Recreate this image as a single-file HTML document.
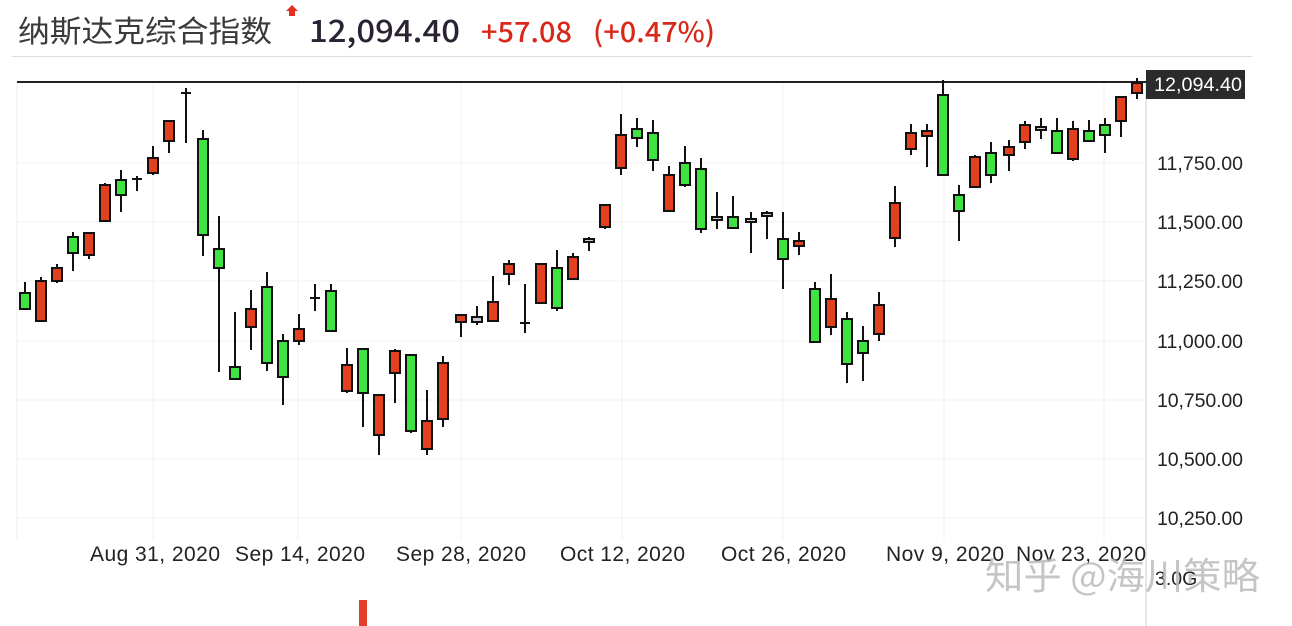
<!DOCTYPE html>
<html><head><meta charset="utf-8"><style>
body{margin:0;background:#fff;width:1292px;height:626px;overflow:hidden;font-family:"Liberation Sans","Noto Sans CJK SC",sans-serif}
svg{position:absolute;left:0;top:0}
</style></head><body>
<svg width="1292" height="626" xmlns="http://www.w3.org/2000/svg">
<rect width="1292" height="626" fill="#fff"/>
<text x="18" y="42" font-size="30" fill="#3a3a3a" font-family="Noto Sans CJK SC, sans-serif" textLength="254" lengthAdjust="spacingAndGlyphs">纳斯达克综合指数</text>
<path d="M286 11 L292 5 L298 11 L295 11 L295 16 L289 16 L289 11Z" fill="#e0301e"/>
<text x="309" y="42" font-size="31" fill="#2b2233" font-family="Noto Sans CJK SC, sans-serif" font-weight="500" textLength="151" lengthAdjust="spacingAndGlyphs">12,094.40</text>
<text x="481" y="42" font-size="28" fill="#d7281a" font-family="Noto Sans CJK SC, sans-serif" font-weight="500" textLength="91" lengthAdjust="spacingAndGlyphs">+57.08</text>
<text x="593" y="42" font-size="28" fill="#d7281a" font-family="Noto Sans CJK SC, sans-serif" font-weight="500" textLength="122" lengthAdjust="spacingAndGlyphs">(+0.47%)</text>
<rect x="12" y="56" width="1240" height="1" fill="#ddd"/>
<g stroke="#f0f0f0" stroke-width="1">
<path d="M17 163H1146M17 222H1146M17 281H1146M17 341H1146M17 400H1146M17 459H1146M17 518H1146"/>
<path d="M153 82V540M298 82V540M461 82V540M622 82V540M783 82V540M944 82V540M1104 82V540"/>
</g>
<path d="M17 82V540" stroke="#eee"/>
<path d="M1146 82V626" stroke="#ccc"/>
<path d="M17 82H1146" stroke="#222" stroke-width="2"/>
<rect x="1146" y="70" width="99" height="29" fill="#2b2b2b"/>
<text x="1154" y="91" font-size="19" fill="#fff" textLength="88" lengthAdjust="spacingAndGlyphs">12,094.40</text>
<g font-size="19.5" fill="#222">
<text x="1157" y="170" textLength="86">11,750.00</text><text x="1157" y="229" textLength="86">11,500.00</text><text x="1157" y="288" textLength="86">11,250.00</text>
<text x="1157" y="348" textLength="86">11,000.00</text><text x="1157" y="407" textLength="86">10,750.00</text><text x="1157" y="466" textLength="86">10,500.00</text>
<text x="1157" y="525" textLength="86">10,250.00</text><text x="1155" y="585">3.0G</text>
</g>
<g font-size="21" fill="#222">
<text x="90" y="561" textLength="130">Aug 31, 2020</text><text x="235" y="561" textLength="130">Sep 14, 2020</text><text x="396" y="561" textLength="130">Sep 28, 2020</text>
<text x="560" y="561" textLength="125">Oct 12, 2020</text><text x="721" y="561" textLength="125">Oct 26, 2020</text><text x="886" y="561" textLength="118">Nov 9, 2020</text><text x="1016" y="561" textLength="130">Nov 23, 2020</text>
</g>
<text x="985" y="589" font-size="37" fill="#bbb" fill-opacity="0.85" font-family="Noto Sans CJK SC, sans-serif" textLength="275" lengthAdjust="spacingAndGlyphs">知乎 @海川策略</text>
<rect x="359" y="600" width="8" height="26" fill="#e0402a"/>
<g stroke="#111" stroke-width="2">
<path d="M25 282V309M41 277V321M57 264V283M73 232V271M89 232V259M105 183V221M121 170V212M137 176V191M153 146V175M169 120V153M186 88V143M203 130V256M219 216V372M235 312V379M251 290V350M267 272V371M283 334V405M299 314V345M315 284V311M331 284V331M347 348V393M363 349V427M379 395V455M395 349V403M411 354V433M427 390V455M443 356V427M461 314V337M477 306V325M493 276V321M509 260V285M525 284V333M541 263V303M557 250V311M573 253V279M589 237V251M605 205V229M621 114V175M637 118V147M653 120V171M669 166V211M685 146V187M701 158V233M717 192V229M733 196V228M751 212V253M767 211V239M783 212V289M799 232V255M815 282V342M831 274V335M847 312V383M863 326V381M879 292V341M895 186V247M911 124V155M927 124V167M943 80V175M959 185V241M975 155V187M991 142V183M1009 140V171M1025 121V149M1041 118V139M1057 118V153M1073 121V161M1089 120V141M1105 118V153M1121 96V137M1137 78V99"/>
<path d="M181 93H191M132 179H142M310 298H320M520 323H530" />
</g>
<g stroke="#111" stroke-width="2" fill="#3fe33f">
<rect x="20" y="293" width="10" height="16"/><rect x="68" y="237" width="10" height="16"/><rect x="116" y="180" width="10" height="15"/>
<rect x="198" y="139" width="10" height="96"/><rect x="214" y="249" width="10" height="19"/><rect x="230" y="367" width="10" height="12"/>
<rect x="262" y="287" width="10" height="76"/><rect x="278" y="341" width="10" height="36"/><rect x="326" y="291" width="10" height="40"/>
<rect x="358" y="349" width="10" height="44"/><rect x="406" y="355" width="10" height="76"/><rect x="552" y="268" width="10" height="40"/>
<rect x="632" y="129" width="10" height="9"/><rect x="648" y="133" width="10" height="27"/><rect x="680" y="163" width="10" height="22"/>
<rect x="696" y="169" width="10" height="60"/><rect x="728" y="217" width="10" height="11"/><rect x="778" y="239" width="10" height="20"/>
<rect x="810" y="289" width="10" height="53"/><rect x="842" y="319" width="10" height="45"/><rect x="858" y="341" width="10" height="12"/>
<rect x="938" y="95" width="10" height="80"/><rect x="954" y="195" width="10" height="16"/><rect x="986" y="153" width="10" height="22"/>
<rect x="1052" y="131" width="10" height="22"/><rect x="1084" y="131" width="10" height="10"/><rect x="1100" y="125" width="10" height="10"/>
</g>
<g stroke="#111" stroke-width="2" fill="#e2401e">
<rect x="36" y="281" width="10" height="40"/><rect x="52" y="268" width="10" height="13"/><rect x="84" y="233" width="10" height="22"/>
<rect x="100" y="185" width="10" height="36"/><rect x="148" y="158" width="10" height="15"/><rect x="164" y="121" width="10" height="20"/>
<rect x="246" y="309" width="10" height="18"/><rect x="294" y="329" width="10" height="12"/><rect x="342" y="365" width="10" height="26"/>
<rect x="374" y="395" width="10" height="40"/><rect x="390" y="351" width="10" height="22"/><rect x="422" y="421" width="10" height="28"/>
<rect x="438" y="363" width="10" height="56"/><rect x="456" y="315" width="10" height="7"/><rect x="488" y="302" width="10" height="19"/>
<rect x="504" y="264" width="10" height="10"/><rect x="536" y="264" width="10" height="39"/><rect x="568" y="257" width="10" height="22"/>
<rect x="600" y="205" width="10" height="22"/><rect x="616" y="135" width="10" height="33"/><rect x="664" y="175" width="10" height="36"/>
<rect x="794" y="241" width="10" height="5"/><rect x="826" y="299" width="10" height="28"/><rect x="874" y="305" width="10" height="29"/>
<rect x="890" y="203" width="10" height="35"/><rect x="906" y="133" width="10" height="16"/><rect x="922" y="131" width="10" height="5"/>
<rect x="970" y="157" width="10" height="30"/><rect x="1004" y="147" width="10" height="8"/><rect x="1020" y="125" width="10" height="17"/>
<rect x="1068" y="129" width="10" height="30"/><rect x="1116" y="97" width="10" height="24"/><rect x="1132" y="83" width="10" height="10"/>
</g>
<g stroke="#111" stroke-width="2" fill="#ccc">
<rect x="472" y="317" width="10" height="5"/><rect x="584" y="239" width="10" height="3"/><rect x="712" y="217" width="10" height="3"/>
<rect x="746" y="219" width="10" height="3"/><rect x="762" y="213" width="10" height="3"/><rect x="1036" y="127" width="10" height="3"/>
</g>
</svg>
</body></html>
